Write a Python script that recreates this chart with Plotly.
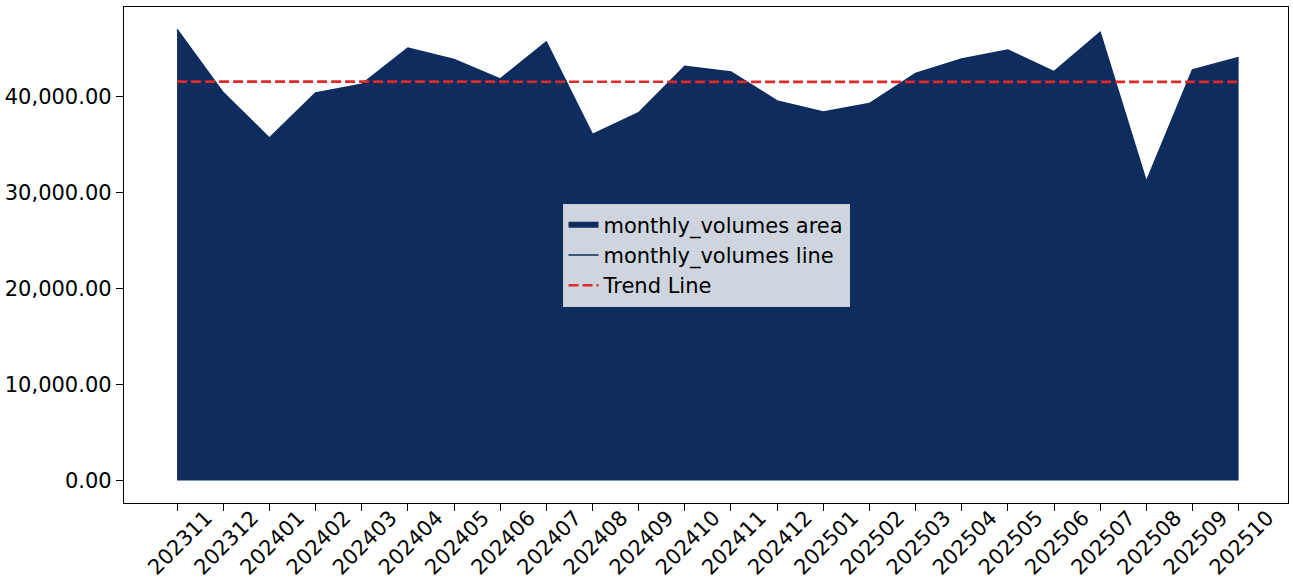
import numpy as np
import plotly.graph_objects as go

months = ["202311", "202312", "202401", "202402", "202403", "202404", "202405", "202406",
          "202407", "202408", "202409", "202410", "202411", "202412", "202501", "202502",
          "202503", "202504", "202505", "202506", "202507", "202508", "202509", "202510"]
monthly_volumes = [46970, 40400, 35680, 40370, 41270, 45030, 43860, 41820,
                   45690, 36050, 38300, 43140, 42550, 39540, 38370, 39260,
                   42410, 43900, 44830, 42580, 46690, 31150, 42760, 44070]

navy = "#0e2d5e"
idx = np.arange(len(months))
slope, intercept = np.polyfit(idx, monthly_volumes, 1)
trend = slope * idx + intercept

fig = go.Figure()
fig.add_trace(go.Scatter(x=months, y=monthly_volumes, mode="none", fill="tozeroy",
                         fillcolor=navy, name="monthly_volumes area"))
fig.add_trace(go.Scatter(x=months, y=monthly_volumes, mode="lines",
                         line=dict(color=navy, width=1.5), name="monthly_volumes line"))
fig.add_trace(go.Scatter(x=months, y=trend, mode="lines",
                         line=dict(color="#dd2a2a", width=2.7, dash="10px,4px"),
                         name="Trend Line"))

ymax = max(monthly_volumes)
n = len(months)
font = dict(family="DejaVu Sans", size=21, color="black")
axis_common = dict(showline=True, linecolor="black", linewidth=1.3, mirror=True,
                   ticks="outside", ticklen=7, tickwidth=1.3, tickcolor="black",
                   showgrid=False, zeroline=False, tickfont=font, automargin=False)
fig.update_layout(
    width=1293, height=582,
    margin=dict(l=124, r=5, t=7, b=79, autoexpand=False),
    paper_bgcolor="white", plot_bgcolor="white",
    font=font,
    xaxis=dict(type="category", range=[-1.15, n - 1 + 1.07],
               tickangle=-45, ticklabelshift=29, ticklabelstandoff=-14, **axis_common),
    yaxis=dict(range=[-0.05 * ymax, 1.05 * ymax], tickformat=",.2f",
               tickvals=[0, 10000, 20000, 30000, 40000], **axis_common),
    legend=dict(x=0.5, y=0.5, xanchor="center", yanchor="middle",
                bgcolor="rgba(255,255,255,0.8)", bordercolor="#cccccc", borderwidth=1,
                font=font),
    showlegend=True,
)
fig.write_html("out.html", config={"displayModeBar": False},
               post_script="document.body.style.margin='0';document.body.style.overflow='hidden';")
